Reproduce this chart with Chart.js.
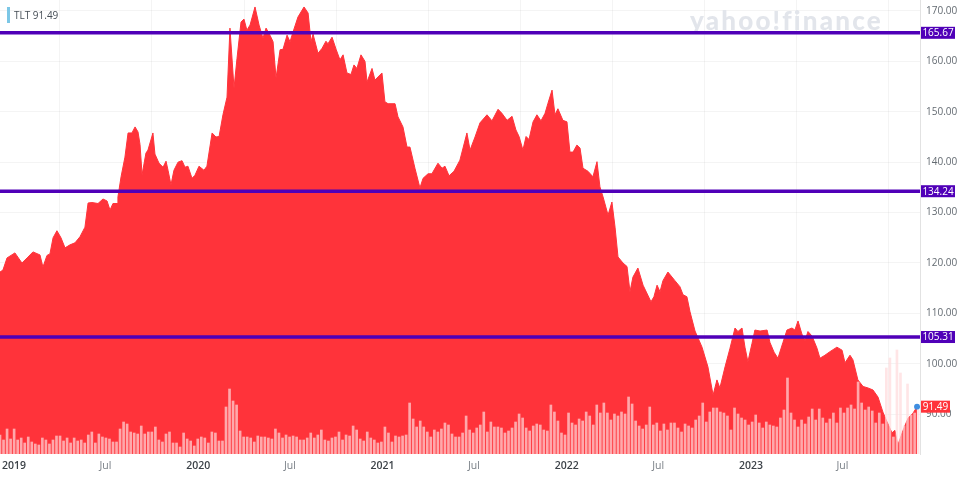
<!DOCTYPE html>
<html>
<head>
<meta charset="utf-8">
<script src="https://cdn.jsdelivr.net/npm/chart.js@4.4.1/dist/chart.umd.min.js"></script>
<style>
  html, body { margin: 0; padding: 0; background: #fff; }
  #wrap { width: 959px; height: 485px; }
</style>
</head>
<body>
<div id="wrap"><canvas id="tlt" width="959" height="485"></canvas></div>
<script>
// dates are decimal years
const priceDates = [
  2018.924, 2018.940, 2018.962, 2019.005, 2019.043, 2019.071, 2019.103, 2019.141, 2019.157, 2019.179,
  2019.195, 2019.212, 2019.233, 2019.255, 2019.277, 2019.304, 2019.331, 2019.358, 2019.385, 2019.402,
  2019.423, 2019.456, 2019.483, 2019.505, 2019.521, 2019.537, 2019.559, 2019.564, 2019.581, 2019.602,
  2019.619, 2019.640, 2019.657, 2019.673, 2019.684, 2019.695, 2019.716, 2019.727, 2019.754, 2019.765,
  2019.787, 2019.809, 2019.825, 2019.836, 2019.852, 2019.868, 2019.890, 2019.912, 2019.928, 2019.944,
  2019.966, 2019.982, 2020.004, 2020.031, 2020.047, 2020.075, 2020.096, 2020.113, 2020.134, 2020.156,
  2020.172, 2020.194, 2020.210, 2020.232, 2020.248, 2020.264, 2020.281, 2020.308, 2020.330, 2020.351,
  2020.368, 2020.389, 2020.406, 2020.422, 2020.444, 2020.460, 2020.482, 2020.498, 2020.514, 2020.541,
  2020.574, 2020.596, 2020.612, 2020.623, 2020.650, 2020.672, 2020.693, 2020.704, 2020.726, 2020.748,
  2020.769, 2020.786, 2020.807, 2020.829, 2020.845, 2020.861, 2020.883, 2020.905, 2020.916, 2020.943,
  2020.959, 2020.997, 2021.013, 2021.030, 2021.068, 2021.084, 2021.111, 2021.133, 2021.149, 2021.176,
  2021.203, 2021.220, 2021.247, 2021.268, 2021.301, 2021.323, 2021.339, 2021.361, 2021.388, 2021.420,
  2021.437, 2021.458, 2021.475, 2021.502, 2021.529, 2021.567, 2021.594, 2021.627, 2021.648, 2021.676,
  2021.703, 2021.724, 2021.741, 2021.762, 2021.779, 2021.795, 2021.817, 2021.838, 2021.860, 2021.882,
  2021.898, 2021.920, 2021.936, 2021.952, 2021.979, 2022.001, 2022.017, 2022.034, 2022.055, 2022.072,
  2022.088, 2022.115, 2022.142, 2022.164, 2022.180, 2022.197, 2022.224, 2022.245, 2022.262, 2022.278,
  2022.305, 2022.327, 2022.343, 2022.359, 2022.386, 2022.414, 2022.457, 2022.473, 2022.490, 2022.506,
  2022.522, 2022.549, 2022.587, 2022.614, 2022.631, 2022.652, 2022.669, 2022.696, 2022.734, 2022.766,
  2022.794, 2022.815, 2022.831, 2022.859, 2022.886, 2022.913, 2022.929, 2022.951, 2022.967, 2022.983,
  2023.005, 2023.021, 2023.049, 2023.087, 2023.103, 2023.125, 2023.146, 2023.173, 2023.195, 2023.222,
  2023.238, 2023.255, 2023.276, 2023.293, 2023.309, 2023.331, 2023.358, 2023.374, 2023.401, 2023.428,
  2023.466, 2023.494, 2023.510, 2023.537, 2023.553, 2023.580, 2023.608, 2023.635, 2023.662, 2023.689,
  2023.716, 2023.738, 2023.765, 2023.781, 2023.797, 2023.825, 2023.852, 2023.879, 2023.901
];
const priceValues = [
  118.2, 118.6, 121.0, 122.0, 120.0, 121.0, 122.2, 121.6, 119.2, 121.5,
  121.8, 125.0, 126.4, 125.0, 123.0, 123.6, 124.0, 125.2, 127.1, 131.9,
  132.0, 131.8, 132.7, 132.3, 130.5, 131.8, 131.8, 133.1, 137.1, 141.0,
  145.8, 145.8, 147.0, 146.0, 143.5, 137.5, 141.8, 142.4, 145.8, 141.6,
  139.8, 139.0, 140.2, 138.4, 135.5, 138.4, 140.0, 140.3, 139.0, 139.2,
  136.8, 137.4, 139.2, 138.4, 139.2, 145.8, 145.0, 145.1, 149.4, 152.9,
  166.6, 154.7, 160.5, 167.8, 168.4, 166.2, 167.2, 170.8, 167.2, 164.6,
  166.6, 165.2, 163.9, 156.7, 162.3, 162.4, 165.2, 163.9, 165.8, 168.8,
  170.8, 169.6, 163.9, 165.4, 161.6, 162.6, 164.0, 163.5, 164.8, 162.4,
  160.3, 161.3, 157.7, 157.4, 159.3, 158.6, 161.3, 160.0, 155.9, 158.6,
  156.3, 157.7, 152.0, 151.6, 151.6, 149.0, 147.0, 143.0, 143.0, 138.8,
  134.9, 136.8, 137.7, 137.7, 139.8, 138.8, 139.2, 137.3, 138.2, 140.4,
  142.8, 145.8, 142.4, 145.0, 147.8, 149.4, 148.2, 150.5, 149.7, 148.3,
  149.1, 146.4, 145.1, 142.4, 145.1, 144.5, 148.0, 149.4, 148.2, 149.7,
  151.7, 154.3, 149.4, 150.6, 148.3, 148.0, 142.0, 142.0, 143.4, 142.8,
  138.8, 138.2, 137.1, 140.1, 135.1, 133.1, 129.5, 132.1, 127.1, 121.2,
  120.0, 119.3, 114.3, 117.2, 119.0, 115.6, 112.3, 113.3, 115.6, 114.3,
  116.5, 118.2, 116.5, 115.3, 113.7, 113.3, 110.3, 106.5, 103.3, 99.4,
  93.8, 96.8, 95.2, 99.4, 103.1, 107.1, 106.4, 107.1, 103.3, 100.4,
  104.0, 106.7, 106.5, 106.7, 104.2, 102.3, 101.1, 104.2, 106.7, 107.1,
  106.7, 108.5, 105.9, 104.6, 106.4, 105.5, 103.1, 101.1, 101.7, 102.4,
  103.3, 102.7, 100.2, 101.7, 100.8, 96.8, 95.5, 95.2, 94.8, 93.4,
  90.4, 88.5, 86.3, 86.8, 83.9, 86.8, 89.2, 90.2, 91.49
];

// weekly volume, millions of shares, first week starts 2018-12-03
const volumeStart = 2018.924;
const volumeValues = [
  38, 28, 50, 30, 50, 28, 32, 22, 34, 24, 20, 18, 32, 28, 20, 28, 36, 36, 26, 32,
  22, 32, 26, 28, 22, 38, 44, 22, 40, 34, 32, 30, 24, 24, 50, 64, 60, 44, 42, 40,
  56, 40, 44, 44, 54, 28, 24, 40, 44, 22, 22, 14, 42, 30, 26, 16, 30, 34, 32, 22,
  44, 42, 26, 26, 94, 130, 106, 98,
  46, 34, 34, 32, 24, 36, 34, 34, 32, 30, 50, 42, 32, 38, 34, 36, 34, 28, 28, 32,
  42, 32, 38, 48, 28, 26, 32, 34, 44, 28, 38, 36, 56, 48, 30, 26, 44, 32, 28, 22,
  24, 54, 42, 24, 36, 34, 36, 38, 102, 70, 54, 66, 54, 44, 34, 48, 44, 50, 62, 58,
  40, 34, 34, 42, 76,
  48, 42, 52, 58, 84, 44, 64, 54, 54, 52, 42, 46, 52, 64, 80, 72, 52, 46, 56, 60,
  58, 48, 46, 98, 84, 66, 42, 38, 82, 62, 58, 70, 66, 84, 76, 58, 98, 82, 102, 82,
  68, 80, 76, 84, 80, 114, 100, 66, 56, 50, 58, 94, 58, 62, 46, 60, 48, 62, 62, 52,
  44, 60, 56, 52, 68,
  76, 102, 64, 84, 92, 92, 84, 82, 76, 48, 92, 80, 72, 68, 58, 64, 78, 62, 52, 64,
  58, 56, 54, 72, 88, 152, 82, 68, 54, 68, 60, 74, 90, 68, 90, 72, 62, 70, 82, 62,
  92, 82, 92, 98, 90, 144, 102, 88, 94, 86, 62, 82, 60, 172, 192, 34, 208, 162, 56, 140,
  78, 82, 88
];

const levels = [165.67, 134.24, 105.31];
const lastPrice = 91.49;
const symbol = 'TLT';

const yTickValues = [90, 100, 110, 120, 130, 140, 150, 160, 170];
const xTickValues = [2019, 2019.496, 2020, 2020.497, 2021, 2021.496, 2022, 2022.496, 2023, 2023.496];
const xTickLabels = ['2019', 'Jul', '2020', 'Jul', '2021', 'Jul', '2022', 'Jul', '2023', 'Jul'];

const X_MIN = 2018.924, X_MAX = 2023.917;
const RED = '#ff333a';
const PURPLE = '#5000b8';
const FONT = "'Open Sans', 'DejaVu Sans', sans-serif";

const pricePoints = priceDates.map((d, i) => ({ x: d, y: priceValues[i] }));
const volumePoints = volumeValues.map((v, i) => ({ x: volumeStart + i * 7 / 365.25, y: v }));

const levelSets = levels.map(l => ({
    type: 'line',
    data: [{ x: X_MIN, y: l }, { x: X_MAX, y: l }],
    borderColor: PURPLE,
    borderWidth: 3.5,
    pointRadius: 0,
    fill: false,
    order: -1,
    yAxisID: 'y'
}));

const overlay = {
    id: 'overlay',
    beforeDatasetsDraw(chart) {
        const ctx = chart.ctx;
        ctx.save();
        ctx.font = "900 26px 'Lato', sans-serif";
        ctx.letterSpacing = '2.2px';
        ctx.fillStyle = '#e2e5eb';
        ctx.textBaseline = 'alphabetic';
        ctx.textAlign = 'left';
        ctx.fillText('yahoo!finance', 690, 30);
        ctx.restore();
    },
    afterDraw(chart) {
        const ctx = chart.ctx;
        const y = chart.scales.y;
        const right = chart.chartArea.right;
        ctx.save();
        ctx.font = '10px ' + FONT;
        ctx.textBaseline = 'middle';
        ctx.textAlign = 'center';
        levels.forEach(l => {
            const py = y.getPixelForValue(l);
            ctx.fillStyle = PURPLE;
            ctx.fillRect(right + 1, py - 6, 34, 12);
            ctx.fillStyle = '#fff';
            ctx.fillText(l.toFixed(2), right + 18, py + 0.5);
        });
        const lp = y.getPixelForValue(lastPrice);
        ctx.fillStyle = RED;
        ctx.fillRect(right + 1, lp - 6, 29, 12);
        ctx.fillStyle = '#fff';
        ctx.fillText(lastPrice.toFixed(2), right + 15.5, lp + 0.5);

        // legend
        ctx.fillStyle = '#7cc7e6';
        ctx.fillRect(7, 7, 3, 16);
        ctx.fillStyle = '#464e56';
        ctx.textAlign = 'left';
        ctx.font = '10px ' + FONT;
        ctx.fillText(symbol + ' ' + lastPrice.toFixed(2), 14, 16);
        ctx.restore();
    }
};

new Chart(document.getElementById('tlt'), {
    type: 'line',
    data: {
        datasets: [
            {
                type: 'bar',
                data: volumePoints,
                backgroundColor: 'rgba(255,218,220,0.7)',
                barThickness: 2,
                grouped: false,
                order: 0,
                yAxisID: 'y2'
            },
            {
                type: 'line',
                data: pricePoints,
                borderColor: RED,
                backgroundColor: RED,
                borderWidth: 1,
                fill: 'start',
                tension: 0,
                pointRadius: ctx => ctx.dataIndex === priceValues.length - 1 ? 3 : 0,
                pointBackgroundColor: '#3f8ee0',
                pointBorderWidth: 0,
                order: 1,
                yAxisID: 'y'
            },
            ...levelSets
        ]
    },
    options: {
        responsive: false,
        animation: false,
        layout: { padding: 0, autoPadding: false },
        plugins: { legend: { display: false }, tooltip: { enabled: false } },
        scales: {
            x: {
                type: 'linear',
                min: X_MIN,
                max: X_MAX,
                offset: false,
                afterBuildTicks: axis => { axis.ticks = xTickValues.map(v => ({ value: v })); },
                afterFit: axis => { axis.height = 31; axis.paddingLeft = 0; axis.paddingRight = 0; },
                border: { display: false },
                grid: { color: 'rgba(0,0,0,0.045)', drawTicks: false },
                ticks: {
                    autoSkip: false,
                    maxRotation: 0,
                    padding: 6,
                    callback: (v, i) => xTickLabels[i],
                    color: c => xTickLabels[c.index] === 'Jul' ? '#7a8087' : '#3c4248',
                    font: c => ({ family: FONT, size: 10.5, weight: xTickLabels[c.index] === 'Jul' ? 'normal' : '600' })
                }
            },
            y: {
                position: 'right',
                min: 82.1,
                max: 172.18,
                afterBuildTicks: axis => { axis.ticks = yTickValues.map(v => ({ value: v })); },
                afterFit: axis => { axis.width = 39; axis.paddingTop = 0; axis.paddingBottom = 0; },
                border: { color: '#e2e2e2' },
                grid: { color: 'rgba(0,0,0,0.045)', drawTicks: false },
                ticks: {
                    padding: 6,
                    color: '#646b72',
                    font: { family: FONT, size: 10 },
                    callback: v => Number(v).toFixed(2)
                }
            },
            y2: {
                display: false,
                min: 0,
                max: 908
            }
        }
    },
    plugins: [overlay]
});
</script>
</body>
</html>
